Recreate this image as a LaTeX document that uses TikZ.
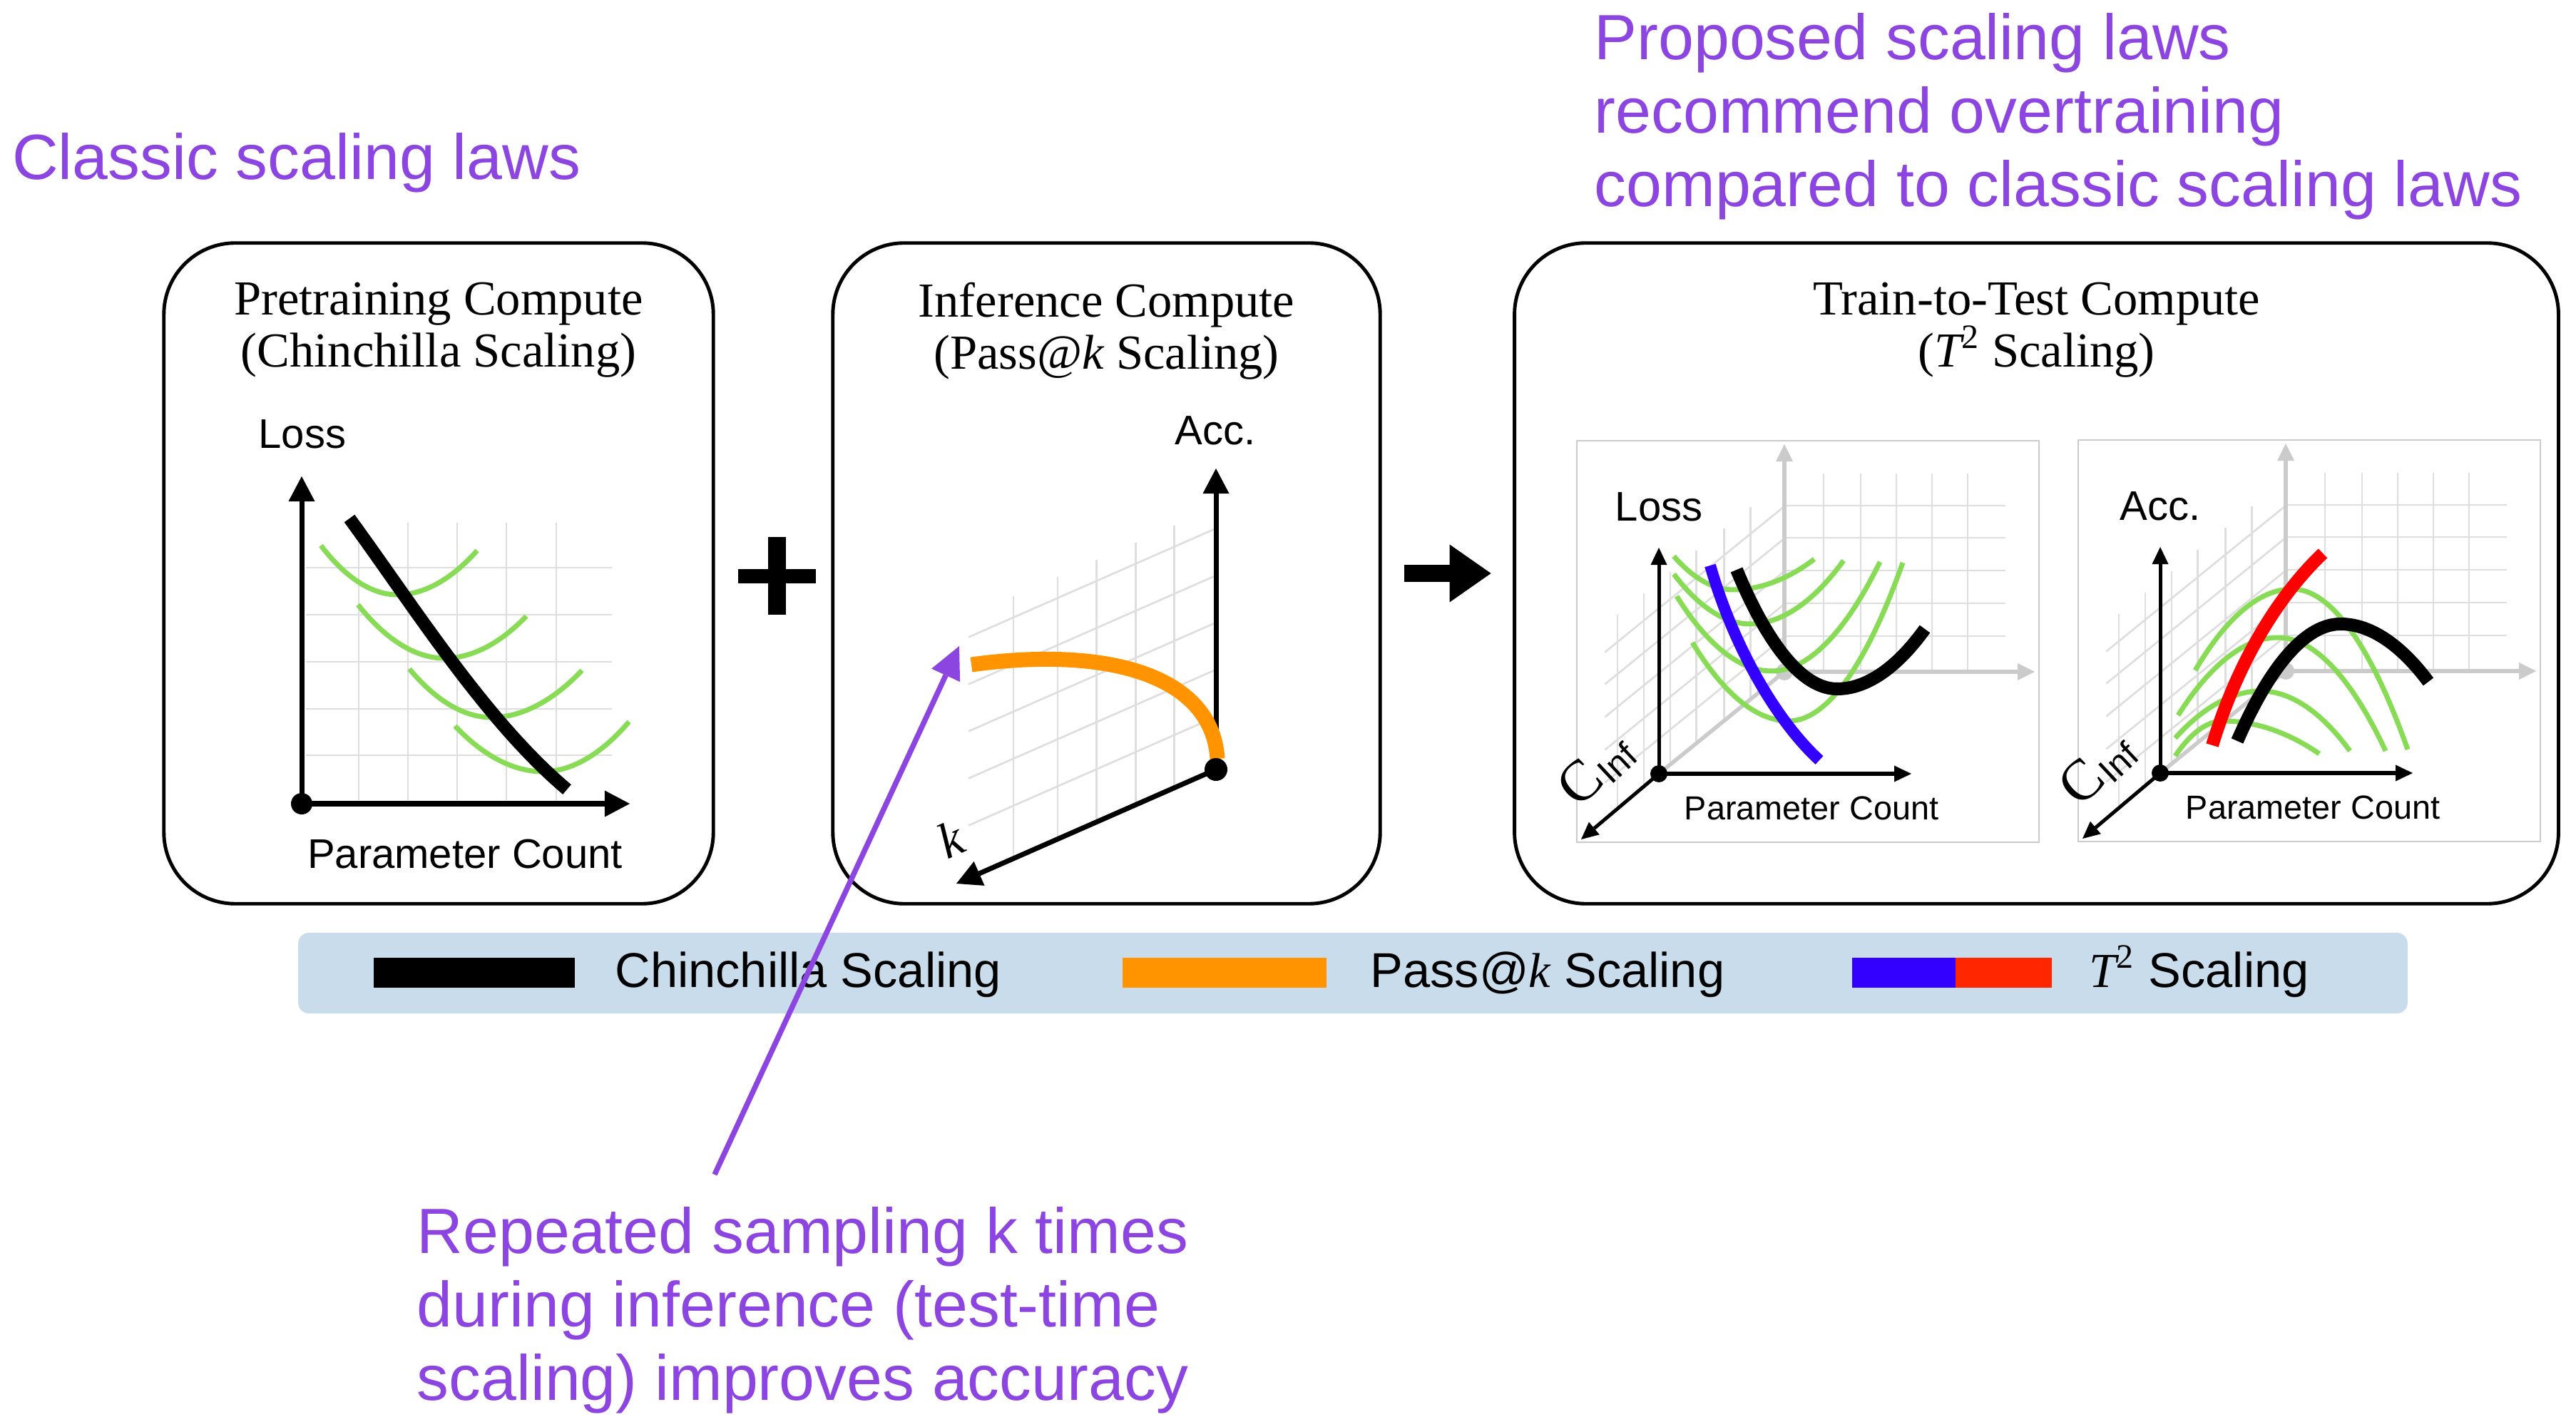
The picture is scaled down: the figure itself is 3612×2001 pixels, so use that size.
\documentclass[tikz,border=0pt]{standalone}
\usepackage{fontspec}
\setmainfont{Liberation Serif}
\setsansfont{Liberation Sans}
\usepackage{tikz}
\usetikzlibrary{calc,positioning,arrows.meta}
\definecolor{roxo}{HTML}{8C45E0}
\definecolor{laranja}{HTML}{FF9300}
\definecolor{azul}{HTML}{3300FF}
\definecolor{vermelho}{HTML}{FF0000}
\definecolor{vermelholeg}{HTML}{FF2600}
\definecolor{verde}{HTML}{88DC55}
\definecolor{grade}{HTML}{DEDEDE}
\definecolor{cinza}{HTML}{CBCBCB}
\definecolor{faixa}{HTML}{C9DCEB}
\newcommand{\kit}{{\rmfamily\itshape k}}
\newcommand{\Tq}{{\rmfamily\itshape T}\textsuperscript{\rmfamily 2}}
\newcommand{\Cinf}{{\rmfamily\fontsize{23}{23}\selectfont C}\kern0.5pt\raisebox{-0.45ex}{\sffamily\fontsize{14}{14}\selectfont Inf}}

\begin{document}
\begin{tikzpicture}[x=0.01cm, y=-0.01cm,
  painel/.style={draw, line width=0.49mm, rounded corners=10mm, minimum height=9.26cm, inner sep=0pt},
  titulo/.style={font=\fontsize{19.5}{20.8}\selectfont, align=center, inner sep=0pt},
  nota/.style={text=roxo, font=\sffamily\fontsize{25.5}{29.2}\selectfont, align=left, inner sep=0pt},
  rot/.style={font=\sffamily\fontsize{16.5}{16.5}\selectfont, inner sep=0pt},
  rotp/.style={font=\sffamily\fontsize{13.3}{13.3}\selectfont, inner sep=0pt},
  leg/.style={font=\sffamily\fontsize{19.5}{19.5}\selectfont, inner sep=0pt, anchor=base west},
  eixo/.style={-{Triangle[length=3.5mm,width=3.7mm,line width=0pt]}, line width=0.7mm},
  eixop/.style={-{Triangle[length=2.4mm,width=2.3mm,line width=0pt]}, line width=0.5mm},
  fundo3d/.style={-{Triangle[length=2.4mm,width=2.4mm,line width=0pt]}, line width=0.55mm, draw=cinza},
  grd/.style={draw=grade, line width=0.27mm},
  parab/.style={draw=verde, line width=0.7mm},
  lei/.style={line width=1.8mm}]
  \useasboundingbox (0,0) rectangle (3612,2001);
  % caixas e titulos
  \node[painel, minimum width=7.70cm] (p1) at (615,804) {};
  \node[painel, minimum width=7.67cm] (p2) at (1551.5,804) {};
  \node[painel, minimum width=14.63cm] (p3) at (2855.5,804) {};
  \node[titulo, below=0.57cm of p1.north] (t1) {Pretraining Compute\\(Chinchilla Scaling)};
  \node[titulo, below=0.57cm of p2.north] (t2) {Inference Compute\\(Pass@\kit{} Scaling)};
  \node[titulo, below=0.57cm of p3.north] (t3) {Train-to-Test Compute\\(\Tq{} Scaling)};
  % + e seta entre paineis
  \coordinate (mais) at ($(p1.east)!0.5!(p2.west)+(5,4)$);
  \fill ($(mais)+(-54.5,-10)$) rectangle ($(mais)+(54.5,10)$);
  \fill ($(mais)+(-12.5,-54.5)$) rectangle ($(mais)+(12.5,54.5)$);
  \draw[line width=2.4mm, -{Triangle[length=5.8mm,width=8.1mm,line width=0pt]}, shorten <=3.15mm, shorten >=3.05mm] (p2.east) -- (p3.west);
  % painel 1: chinchilla
  \coordinate (o1) at (423,1127);
  \foreach \gx in {503,572,641,710,780} \draw[grd] (\gx,733) -- (\gx,1122);
  \foreach \gy in {796,862,928,994,1059} \draw[grd] (429,\gy) -- (858,\gy);
  \draw[parab] (450,765) parabola bend (557,834) (669,772);
  \draw[parab] (502,848) parabola bend (623,923) (738,864);
  \draw[parab] (574,938) parabola bend (689,1006) (816,940);
  \draw[parab] (638,1018) parabola bend (761,1082) (882,1012);
  \draw[lei] (490,727) .. controls (580,850) and (680,1010) .. (795,1107);
  \draw[eixo] (o1) -- ++(0,-459);
  \draw[eixo] (o1) -- ++(460,0);
  \fill (o1) circle[radius=1.5mm];
  \node[rot, anchor=base] (loss1) at (424,629) {Loss};
  \node[rot, anchor=base] (par1) at (652,1217) {Parameter Count};
  % painel 2: pass@k
  \coordinate (o2) at (1705,1079);
  \foreach \t in {0.16,0.31,0.46,0.61,0.78} \draw[grd] ($(o2)+\t*(-364,160)$) -- ++(0,-368);
  \foreach \h in {74,140,206,272,338} \draw[grd] ($(o2)+(0,-\h)$) -- ++(-347,152.5);
  \draw[eixo] (o2) -- ++(0,-422);
  \draw[eixo] (o2) -- ++(-364,160);
  \draw[laranja, line width=2.1mm] (1362,932) .. controls (1560,905) and (1700,950) .. (1707,1064);
  \fill (o2) circle[radius=1.6mm];
  \node[rot, anchor=base] (acc2) at (1704,624) {Acc.};
  \node[font=\fontsize{20}{20}\selectfont, rotate=24, inner sep=0pt] (k2) at (1333,1177) {\kit};
  % painel 3: dois graficos 3d
  \foreach \ox/\oy/\eixoy/\nm in {2326/1085/Loss/a, 3029/1084/Acc./b}{
    \begin{scope}[shift={(\ox,\oy)}]
      \draw[cinza, line width=0.2mm] (-115,-467) rectangle (533,96);
      \foreach \s in {-0.33,-0.12,0.09,0.30,0.52,0.73} \draw[grd] ({176*\s},{-143*\s}) -- ++(0,-270);
      \foreach \h in {49,95,141,187,232} \draw[grd] ({-0.43*176},{0.43*143-\h}) -- (176,{-143-\h});
      \foreach \gx in {231,283,333,383,433} \draw[grd] (\gx,-421) -- (\gx,-143);
      \foreach \gy in {-376,-331,-285,-239,-193} \draw[grd] (176,\gy) -- (486,\gy);
      \draw[cinza, line width=0.55mm] (0,0) -- (176,-143);
      \draw[fundo3d] (176,-143) -- (176,-462);
      \draw[fundo3d] (176,-143) -- (527,-143);
      \fill[cinza] (176,-143) circle[radius=1.2mm];
      \draw[eixop] (0,0) -- (0,-317);
      \draw[eixop] (0,0) -- (354,0);
      \draw[eixop] (0,0) -- (-109,92);
      \fill (0,0) circle[radius=1.2mm];
      \node[rot, anchor=base] (rot\nm) at (0,-354) {\eixoy};
      \node[rotp, anchor=base] (par\nm) at (214,64) {Parameter Count};
      \node[rotate=43, inner sep=0pt] (c\nm) at (-88,-5) {\Cinf};
    \end{scope}}
  % curvas do grafico da perda
  \draw[parab] (2347,780) parabola bend (2430,827) (2544,784);
  \draw[parab] (2347,805) parabola bend (2454,875) (2585,786);
  \draw[parab] (2351,836) parabola bend (2484,941) (2636,788);
  \draw[parab] (2373,901) parabola bend (2508,1011) (2668,789);
  \draw[lei, azul, line width=1.6mm] (2398,793) .. controls (2430,905) and (2490,1010) .. (2551,1066);
  \draw[lei] (2435,799) parabola bend (2576,966) (2699,882);
  % curvas do grafico da acuracia
  \draw[parab] (3078,940) parabola bend (3214,826) (3376,1051);
  \draw[parab] (3054,1003) parabola bend (3194,894) (3345,1053);
  \draw[parab] (3050,1035) parabola bend (3170,969) (3295,1053);
  \draw[parab] (3050,1060) parabola bend (3117,1011) (3252,1057);
  \draw[lei, vermelho] (3102,1045) .. controls (3140,920) and (3200,830) .. (3257,776);
  \draw[lei] (3137,1039) parabola bend (3282,875) (3405,956);
  % legenda
  \node[fill=faixa, rounded corners=1.5mm, minimum width=29.56cm, minimum height=1.13cm, inner sep=0pt] (leg) at (1897,1364.5) {};
  \fill (524,1343) rectangle (806,1385);
  \node[leg] (lchin) at (862,1384) {Chinchilla Scaling};
  \fill[laranja] (1574,1343) rectangle (1860,1385);
  \node[leg] (lpass) at (1921,1384) {Pass@\kit{} Scaling};
  \fill[azul] (2597,1343) rectangle (2742,1385);
  \fill[vermelholeg] (2742,1343) rectangle (2877,1385);
  \node[leg] (lt2) at (2929,1384) {\Tq{} Scaling};
  % textos roxos
  \node[nota, anchor=base west] (classica) at (16.5,252) {Classic scaling laws};
  \node[nota, anchor=north west] (proposta) at (2235,18) {Proposed scaling laws\\recommend overtraining\\compared to classic scaling laws};
  \node[nota, anchor=north west] (repetida) at (584,1692) {Repeated sampling k times\\during inference (test-time\\scaling) improves accuracy};
  \coordinate (alvo) at (1345,906);
  \draw[roxo, line width=0.75mm, -{Triangle[length=4.5mm,width=4.4mm,line width=0pt]}] ($(repetida.north west)+(418,-45)$) -- (alvo);
\end{tikzpicture}
\end{document}
